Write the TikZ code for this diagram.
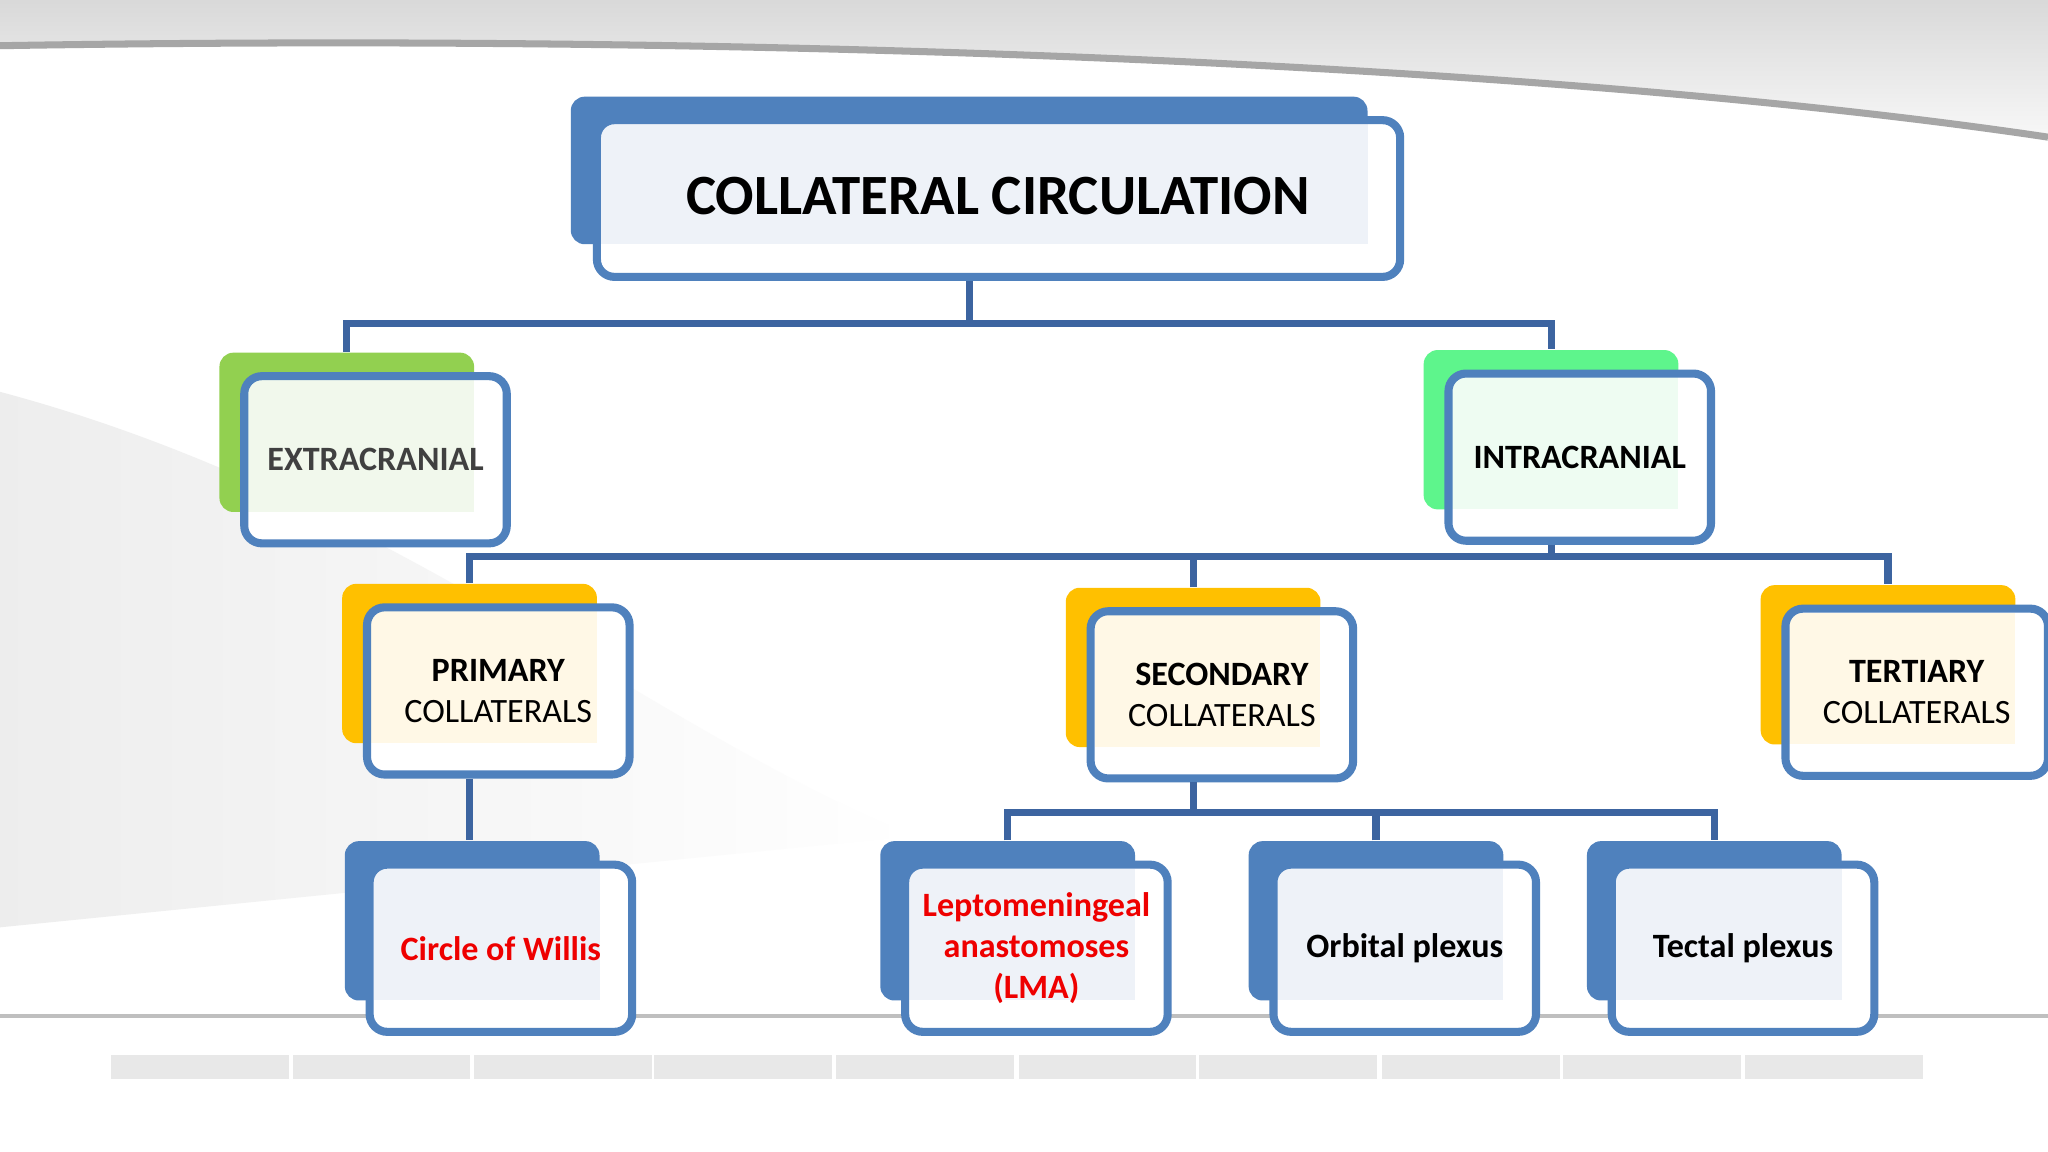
\documentclass[tikz,border=0pt]{standalone}
\usepackage{fontspec}
\setmainfont{Carlito}
\definecolor{bb}{HTML}{4F81BD}
\definecolor{ln}{HTML}{3C64A0}
\definecolor{gA}{HTML}{92D050}
\definecolor{gB}{HTML}{5EF58C}
\definecolor{yA}{HTML}{FFC000}
\definecolor{tB}{HTML}{EEF2F8}
\definecolor{tGA}{HTML}{F1F8EC}
\definecolor{tGB}{HTML}{EEFCF2}
\definecolor{tY}{HTML}{FFF8E6}
\definecolor{rd}{HTML}{EE0000}
\def\u{0.01306cm}
\tikzset{x=\u,y=-\u,
 frontbox/.style={draw=bb,line width=2.3pt,rounded corners=5pt,minimum width=201*\u,minimum height=128*\u,inner sep=0pt,align=center,font=\bfseries\fontsize{9.7}{11.6}\selectfont},
 backbox/.style={rounded corners=4pt,minimum width=195*\u,minimum height=122*\u,inner sep=0pt},
 conn/.style={draw=ln,line width=2pt}}
\newcommand\colbox[6]{% name, x, y, back color, tint, text
 \node[backbox,fill=#4] (#1b) at (#2+97.5,#3+61) {};
 \fill[white,rounded corners=5pt] (#2+19,#3+18) rectangle (#2+220,#3+146);
 \fill[#5] (#2+22,#3+21) rectangle (#2+195,#3+122);
 \node[frontbox] (#1) at (#2+119.5,#3+82) {#6};}
\begin{document}
\begin{tikzpicture}
\useasboundingbox (0,0) rectangle (1568,882);
\fill[white] (0,0) rectangle (1568,882);
\shade[top color=gray!30,bottom color=gray!6] (0,0) -- (1568,0) -- (1568,105) .. controls (1200,50) and (600,25) .. (0,35) -- cycle;
\draw[gray!70,line width=2pt] (0,35) .. controls (600,25) and (1200,50) .. (1568,105);
\shade[left color=gray!14,right color=white] (0,300) .. controls (300,380) and (500,560) .. (700,640) -- (0,710) -- cycle;
\draw[gray!50,line width=1pt] (0,778) -- (1568,778);
\foreach \a in {85,224,363,501,640,780,918,1058,1197,1336}
 \fill[gray!18] (\a,808) rectangle (\a+136,826);
% title
\node[backbox,fill=bb,minimum width=610*\u,minimum height=113*\u] (titleb) at (742,130.5) {};
\fill[white,rounded corners=5pt] (457,92) rectangle (1072,212);
\fill[tB] (460,95) rectangle (1047,187);
\node[frontbox,minimum width=615*\u,minimum height=120*\u] (title) at (764.5,152) {};
\node (tt) at (764,150) {\bfseries\fontsize{16.2}{19}\selectfont COLLATERAL CIRCULATION};
\colbox{ex}{168}{270}{gA}{tGA}{\color{black!75}EXTRACRANIAL}
\colbox{in}{1090}{268}{gB}{tGB}{INTRACRANIAL}
\colbox{pr}{262}{447}{yA}{tY}{PRIMARY\\\mdseries COLLATERALS}
\colbox{se}{816}{450}{yA}{tY}{SECONDARY\\\mdseries COLLATERALS}
\colbox{te}{1348}{448}{yA}{tY}{TERTIARY\\\mdseries COLLATERALS}
\colbox{cw}{264}{644}{bb}{tB}{\color{rd}Circle of Willis}
\colbox{lm}{674}{644}{bb}{tB}{\color{rd}Leptomeningeal\\\color{rd}anastomoses\\\color{rd}(LMA)}
\colbox{or}{956}{644}{bb}{tB}{Orbital plexus}
\colbox{tc}{1215}{644}{bb}{tB}{Tectal plexus}
% connectors
\coordinate (j1) at (742,248);
\coordinate (j2) at (1188,426);
\coordinate (j3) at (914,622);
\draw[conn] (title.south -| j1) -- (j1);
\draw[conn] (exb.north) |- (j1) -| (inb.north);
\draw[conn] (in.south -| j2) -- (j2);
\draw[conn] (prb.north) |- (j2) -| (teb.north);
\draw[conn] (seb.north) -- (seb.north|-j2);
\draw[conn] (pr.south -| prb.north) -- (cwb.north -| prb.north);
\draw[conn] (se.south -| j3) -- (j3);
\draw[conn] (lmb.north) |- (j3) -| (tcb.north);
\draw[conn] (orb.north) -- (orb.north|-j3);
\end{tikzpicture}
\end{document}
